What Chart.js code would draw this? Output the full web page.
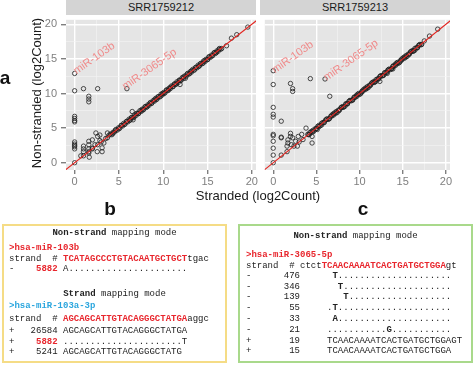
<!DOCTYPE html>
<html>
<head>
<meta charset="utf-8">
<script src="https://cdn.jsdelivr.net/npm/chart.js@4.4.1/dist/chart.umd.min.js"></script>
<style>
  body { margin: 0; background: #fff; }
  #fig { position: relative; width: 474px; height: 366px; overflow: hidden; font-family: 'Liberation Sans', Arial, sans-serif; }
  .abs { position: absolute; }
  .strip { position: absolute; top: 0; height: 15px; background: #d4d4d4; font-size: 11px; line-height: 15px; text-align: center; color: #1a1a1a; }
  .tag { position: absolute; width: 20px; text-align: center; font-weight: bold; font-size: 19px; line-height: 22px; color: #111; }
  .title { position: absolute; width: 160px; height: 16px; line-height: 16px; text-align: center; font-size: 13px; color: #1a1a1a; }
  .box { position: absolute; top: 224px; height: 139px; box-sizing: border-box; border: 2px solid; }
  .ln { position: absolute; white-space: pre; font: 9px/11px 'Liberation Mono', 'Courier New', monospace; color: #222; }
  .c { text-align: center; }
  .r { color: #e8262d; font-weight: bold; }
  .bl { color: #2ba6de; font-weight: bold; }
</style>
</head>
<body>
<div id="fig">
  <div class="strip" style="left:66px;width:190px">SRR1759212</div>
  <div class="strip" style="left:260px;width:190px">SRR1759213</div>
  <canvas id="leftPanel" class="abs" width="262" height="175" style="left:0;top:15px"></canvas>
  <canvas id="rightPanel" class="abs" width="196" height="175" style="left:260px;top:15px"></canvas>

  <div class="title" style="left:-43px;top:85px;transform:rotate(-90deg)">Non-stranded (log2Count)</div>
  <div class="title" style="left:178px;top:188px">Stranded (log2Count)</div>
  <div class="tag" style="left:-5px;top:67px">a</div>
  <div class="tag" style="left:100px;top:198px">b</div>
  <div class="tag" style="left:353px;top:198px">c</div>

  <!-- b: yellow box -->
  <div class="box" style="left:2px;width:225px;border-color:#f5dc86"></div>
  <div class="ln c" style="left:2px;width:225px;top:228px"><b>Non-strand</b> mapping mode</div>
  <div class="ln" style="left:9px;top:243px"><span class="r">&gt;hsa-miR-103b</span></div>
  <div class="ln" style="left:9px;top:254px">strand  # <span class="r">TCATAGCCCTGTACAATGCTGCT</span>tgac</div>
  <div class="ln" style="left:9px;top:264px">-    <span class="r">5882</span> A......................</div>
  <div class="ln c" style="left:2px;width:225px;top:289px"><b>Strand</b> mapping mode</div>
  <div class="ln" style="left:9px;top:301px"><span class="bl">&gt;hsa-miR-103a-3p</span></div>
  <div class="ln" style="left:9px;top:314px">strand  # <span class="r">AGCAGCATTGTACAGGGCTATGA</span>aggc</div>
  <div class="ln" style="left:9px;top:326px">+   26584 AGCAGCATTGTACAGGGCTATGA</div>
  <div class="ln" style="left:9px;top:337px">+    <span class="r">5882</span> ......................T</div>
  <div class="ln" style="left:9px;top:347px">+    5241 AGCAGCATTGTACAGGGCTATG</div>

  <!-- c: green box -->
  <div class="box" style="left:238px;width:235px;border-color:#a9d98b"></div>
  <div class="ln c" style="left:238px;width:235px;top:231px"><b>Non-strand</b> mapping mode</div>
  <div class="ln" style="left:246px;top:250px"><span class="r">&gt;hsa-miR-3065-5p</span></div>
  <div class="ln" style="left:246px;top:261px">strand  # ctct<span class="r">TCAACAAAATCACTGATGCTGGA</span>gt</div>
  <div class="ln" style="left:246px;top:271px">-      476      <b>T</b>.....................</div>
  <div class="ln" style="left:246px;top:282px">-      346       <b>T</b>....................</div>
  <div class="ln" style="left:246px;top:292px">-      139        <b>T</b>...................</div>
  <div class="ln" style="left:246px;top:303px">-       55     .<b>T</b>.....................</div>
  <div class="ln" style="left:246px;top:314px">-       33      <b>A</b>.....................</div>
  <div class="ln" style="left:246px;top:325px">-       21     ...........<b>G</b>...........</div>
  <div class="ln" style="left:246px;top:336px">+       19     TCAACAAAATCACTGATGCTGGAGT</div>
  <div class="ln" style="left:246px;top:346px">+       15     TCAACAAAATCACTGATGCTGGA</div>
</div>

<script>
// values (log2 counts)
const leftStranded = [
  0, 0, 1.0, 2.6, 1.6, 1.6, 1.6, 5.9, 0, 0, 0, 0, 0, 0, 0, 0, 0, 0, 6.5, 6.6, 11.9,
  1.0, 1.0, 1.0, 1.6, 1.6, 1.6, 1.6, 2.0, 2.4, 2.6, 2.85, 2.85, 3.1, 3.1, 2.55, 3.7, 3.7,
  2.0, 2.3, 0.7, 1.65, 3.3, 1.0, 2.0, 3.0, 3.5, 1.6, 2.6,
  3.9, 4.3, 4.6, 5.0, 5.3, 5.6, 5.9, 6.2, 6.4, 6.7, 7.0, 7.2, 7.5, 7.7, 8.0, 8.2, 8.5, 8.7,
  9.0, 9.2, 9.4, 9.7, 9.9, 10.1, 10.4, 10.6, 10.8, 11.1, 11.3, 11.5, 11.8, 12.0, 12.3, 12.5,
  12.7, 13.0, 13.2, 13.5, 13.7, 14.0, 14.2, 14.5, 14.7, 15.0, 15.2, 15.5, 15.8, 16.0, 16.3,
  16.6, 17.15, 17.7, 18.3, 19.55
];
const leftNonStranded = [
  12.9, 10.4, 10.7, 10.7, 9.6, 9.2, 8.8, 10.7, 6.7, 6.4, 6.1, 5.9, 3.0, 2.7, 2.5, 2.3, 2.0, 0, 7.4, 6.2, 11.3,
  2.4, 2.0, 1.6, 3.1, 2.6, 2.0, 1.4, 3.3, 4.3, 3.8, 4.0, 3.2, 2.15, 1.6, 1.6, 3.6, 4.3,
  2.1, 2.6, 1.0, 0.8, 2.85, 1.0, 2.0, 3.0, 3.5, 1.6, 2.6,
  4.0, 4.2, 4.7, 4.9, 5.4, 5.5, 6.0, 6.1, 6.5, 6.6, 7.1, 7.1, 7.6, 7.6, 8.1, 8.1, 8.6, 8.6,
  9.1, 9.1, 9.5, 9.6, 10.0, 10.0, 10.5, 10.5, 10.9, 11.0, 11.4, 11.4, 11.9, 11.9, 12.4, 12.2,
  12.8, 12.9, 13.3, 13.4, 13.8, 13.9, 14.3, 14.4, 14.8, 14.9, 15.3, 15.4, 15.9, 15.9, 16.4,
  16.5, 16.9, 18.0, 18.5, 19.6
];
// the densely packed band of miRNAs lying on the diagonal (left panel)
const leftBandStranded = [
  4.05, 4.2, 4.35, 4.5, 4.65, 4.8, 4.95, 5.1, 5.25, 5.4, 5.55, 5.7, 5.85, 6.0, 6.15, 6.3,
  6.45, 6.6, 6.75, 6.9, 7.05, 7.2, 7.35, 7.5, 7.65, 7.8, 7.95, 8.1, 8.25, 8.4, 8.55, 8.7,
  8.85, 9.0, 9.15, 9.3, 9.45, 9.6, 9.75, 9.9, 10.05, 10.2, 10.35, 10.5, 10.65, 10.8, 10.95,
  11.1, 11.25, 11.4, 11.55, 11.7, 11.85, 12.0, 12.15, 12.3, 12.45, 12.6, 12.75, 12.9, 13.05,
  13.2, 13.35, 13.5, 13.65, 13.8, 13.95, 14.1, 14.25, 14.4, 14.55, 14.7, 14.85, 15.0, 15.15,
  15.3, 15.45, 15.6, 15.75, 15.9, 16.05, 16.2, 16.35, 16.5
];
const leftBandNonStranded = [
  4.15, 4.05, 4.4, 4.45, 4.8, 4.7, 5.05, 5.0, 5.4, 5.3, 5.7, 5.6, 5.95, 5.9, 6.3, 6.2,
  6.55, 6.5, 6.9, 6.8, 7.15, 7.1, 7.5, 7.4, 7.75, 7.7, 8.1, 8.0, 8.35, 8.3, 8.7, 8.6,
  8.95, 8.9, 9.3, 9.2, 9.55, 9.5, 9.9, 9.8, 10.15, 10.1, 10.5, 10.4, 10.75, 10.7, 11.1,
  11.0, 11.35, 11.3, 11.7, 11.6, 11.95, 11.9, 12.3, 12.2, 12.55, 12.5, 12.9, 12.8, 13.15,
  13.1, 13.5, 13.4, 13.75, 13.7, 14.1, 14.0, 14.35, 14.3, 14.7, 14.6, 14.95, 14.9, 15.3,
  15.2, 15.55, 15.5, 15.9, 15.8, 16.15, 16.1, 16.5, 16.4
];
const rightStranded = [
  0, 0, 2.0, 2.25, 2.25, 4.3, 6.0, 6.55, 0, 0, 0, 0.93, 0, 0, 0, 0, 0, 0, 0.93, 0.93, 0.93,
  1.6, 2.0, 2.0, 1.7, 2.25, 1.7, 2.1, 2.6, 2.9, 3.3, 3.8, 4.5, 4.5, 3.45, 2.8, 5.1, 1.6, 2.4,
  3.0, 12.35, 13.2, 13.85,
  4.0, 4.2, 4.6, 5.0, 5.3, 5.6, 5.9, 6.2, 6.5, 6.8, 7.0, 7.3, 7.6, 7.9, 8.1, 8.4, 8.6, 8.9,
  9.2, 9.4, 9.7, 9.9, 10.2, 10.4, 10.7, 10.9, 11.2, 11.4, 11.7, 11.9, 12.2, 12.4, 12.7, 12.9,
  13.2, 13.4, 13.7, 13.9, 14.2, 14.4, 14.7, 14.9, 15.2, 15.4, 15.7, 15.9, 16.2, 16.4, 16.7,
  16.9, 17.2, 17.5, 18.1, 19.05
];
const rightNonStranded = [
  13.3, 11.3, 11.45, 10.7, 10.3, 12.15, 12.1, 9.6, 8.0, 7.0, 6.6, 6.0, 4.1, 3.9, 3.1, 2.1, 1.1, 0, 3.7, 3.6, 1.1,
  1.6, 4.25, 3.8, 3.3, 3.6, 2.85, 2.6, 3.1, 3.8, 4.1, 5.0, 3.8, 2.85, 3.35, 2.4, 4.8, 2.4, 2.4,
  3.0, 11.75, 12.9, 13.55,
  4.1, 4.1, 4.7, 4.9, 5.2, 5.7, 5.8, 6.3, 6.4, 6.9, 6.9, 7.4, 7.5, 8.0, 8.0, 8.5, 8.5, 9.0,
  9.1, 9.5, 9.6, 10.0, 10.1, 10.5, 10.6, 11.0, 11.1, 11.5, 11.6, 12.0, 12.1, 12.5, 12.6, 13.0,
  13.1, 13.5, 13.6, 14.0, 14.1, 14.5, 14.6, 15.0, 15.1, 15.5, 15.6, 16.0, 16.1, 16.5, 16.6,
  17.0, 17.1, 17.6, 18.3, 19.3
];
// the densely packed band of miRNAs lying on the diagonal (right panel)
const rightBandStranded = [
  4.1, 4.25, 4.4, 4.55, 4.7, 4.85, 5.0, 5.15, 5.3, 5.45, 5.6, 5.75, 5.9, 6.05, 6.2, 6.35,
  6.5, 6.65, 6.8, 6.95, 7.1, 7.25, 7.4, 7.55, 7.7, 7.85, 8.0, 8.15, 8.3, 8.45, 8.6, 8.75,
  8.9, 9.05, 9.2, 9.35, 9.5, 9.65, 9.8, 9.95, 10.1, 10.25, 10.4, 10.55, 10.7, 10.85, 11.0,
  11.15, 11.3, 11.45, 11.6, 11.75, 11.9, 12.05, 12.2, 12.35, 12.5, 12.65, 12.8, 12.95, 13.1,
  13.25, 13.4, 13.55, 13.7, 13.85, 14.0, 14.15, 14.3, 14.45, 14.6, 14.75, 14.9, 15.05, 15.2,
  15.35, 15.5, 15.65, 15.8, 15.95, 16.1, 16.25, 16.4, 16.55, 16.7, 16.85, 17.0, 17.15
];
const rightBandNonStranded = [
  4.05, 4.35, 4.5, 4.45, 4.55, 4.9, 4.95, 5.25, 5.4, 5.35, 5.45, 5.8, 5.85, 6.15, 6.3, 6.25,
  6.35, 6.7, 6.75, 7.05, 7.2, 7.15, 7.25, 7.6, 7.65, 7.95, 8.1, 8.05, 8.15, 8.5, 8.55, 8.85,
  9.0, 8.95, 9.05, 9.4, 9.45, 9.75, 9.9, 9.85, 9.95, 10.3, 10.35, 10.65, 10.8, 10.75, 10.85,
  11.2, 11.25, 11.55, 11.7, 11.65, 11.75, 12.1, 12.15, 12.45, 12.6, 12.55, 12.65, 13.0, 13.05,
  13.35, 13.5, 13.45, 13.55, 13.9, 13.95, 14.25, 14.4, 14.35, 14.45, 14.8, 14.85, 15.15, 15.3,
  15.25, 15.35, 15.7, 15.75, 16.05, 16.2, 16.15, 16.25, 16.6, 16.65, 16.95, 17.1, 17.05
];
const identityLine = [-2, 22];

const leftLabels = ['miR-103b', 'miR-3065-5p'];
const leftLabelX = [0.2, 5.7];
const leftLabelY = [12.75, 10.5];
const rightLabels = ['miR-103b', 'miR-3065-5p'];
const rightLabelX = [0.2, 6.2];
const rightLabelY = [12.9, 11.8];

Chart.defaults.font.family = "'Liberation Sans', Arial, sans-serif";

// grey ggplot-like panel background
const panelBg = {
  id: 'panelBg',
  beforeDraw(chart) {
    const a = chart.chartArea, ctx = chart.ctx;
    ctx.save();
    ctx.fillStyle = '#e5e5e5';
    ctx.fillRect(a.left, a.top, a.width, a.height);
    ctx.restore();
  }
};

// rotated miRNA names placed at data coordinates
function mirLabels(names, xs, ys) {
  return {
    id: 'mirLabels',
    afterDatasetsDraw(chart) {
      const ctx = chart.ctx, sx = chart.scales.x, sy = chart.scales.y;
      ctx.save();
      ctx.font = "11px 'Liberation Sans', Arial";
      ctx.fillStyle = '#f08a8a';
      names.forEach((n, i) => {
        ctx.save();
        ctx.translate(sx.getPixelForValue(xs[i]), sy.getPixelForValue(ys[i]));
        ctx.rotate(-35 * Math.PI / 180);
        ctx.fillText(n, 0, 0);
        ctx.restore();
      });
      ctx.restore();
    }
  };
}

const isMajor = c => c.tick && c.tick.value % 5 === 0;
const gridOpts = len => ({
  color: c => isMajor(c) ? '#ffffff' : '#f3f3f3',
  lineWidth: c => isMajor(c) ? 1.4 : 0.6,
  tickColor: c => isMajor(c) ? '#7f7f7f' : 'rgba(0,0,0,0)',
  tickLength: len,
  drawTicks: len > 0
});
const tickOpts = pad => ({
  stepSize: 2.5,
  includeBounds: false,
  autoSkip: false,
  maxRotation: 0,
  padding: pad,
  color: '#7f7f7f',
  font: { size: 11 },
  callback: v => (v % 5 === 0 ? v : '')
});

function buildPanel(id, xs, ys, names, lx, ly, showY) {
  const points = xs.map((x, i) => ({ x: x, y: ys[i] }));
  const config = {
    type: 'scatter',
    data: {
      datasets: [
        {
          data: identityLine.map(v => ({ x: v, y: v })),
          showLine: true,
          borderColor: '#e3241f',
          borderWidth: 1.1,
          pointRadius: 0,
          order: 0
        },
        {
          data: points,
          pointRadius: 2.2,
          borderWidth: 0.8,
          borderColor: '#1f1f1f',
          backgroundColor: 'rgba(0,0,0,0)',
          order: 1
        }
      ]
    },
    options: {
      responsive: false,
      animation: false,
      devicePixelRatio: 1,
      layout: { padding: { left: 0, right: 6, top: 0, bottom: 0 } },
      plugins: { legend: { display: false }, tooltip: { enabled: false } },
      scales: {
        x: {
          type: 'linear', min: -0.975, max: 20.475,
          border: { display: false },
          grid: gridOpts(4),
          ticks: tickOpts(1),
          afterFit: s => { s.height = 20; s.paddingLeft = 0; s.paddingRight = 0; }
        },
        y: {
          type: 'linear', min: -1.05, max: 20.65,
          border: { display: false },
          grid: gridOpts(showY ? 5 : 0),
          ticks: Object.assign(tickOpts(4), { display: showY }),
          afterFit: s => { s.width = showY ? 66 : 0; s.paddingTop = 0; s.paddingBottom = 0; }
        }
      }
    },
    plugins: [panelBg, mirLabels(names, lx, ly)]
  };
  new Chart(document.getElementById(id), config);
}

buildPanel('leftPanel', leftStranded.concat(leftBandStranded), leftNonStranded.concat(leftBandNonStranded),
  leftLabels, leftLabelX, leftLabelY, true);
buildPanel('rightPanel', rightStranded.concat(rightBandStranded), rightNonStranded.concat(rightBandNonStranded),
  rightLabels, rightLabelX, rightLabelY, false);
</script>
</body>
</html>
